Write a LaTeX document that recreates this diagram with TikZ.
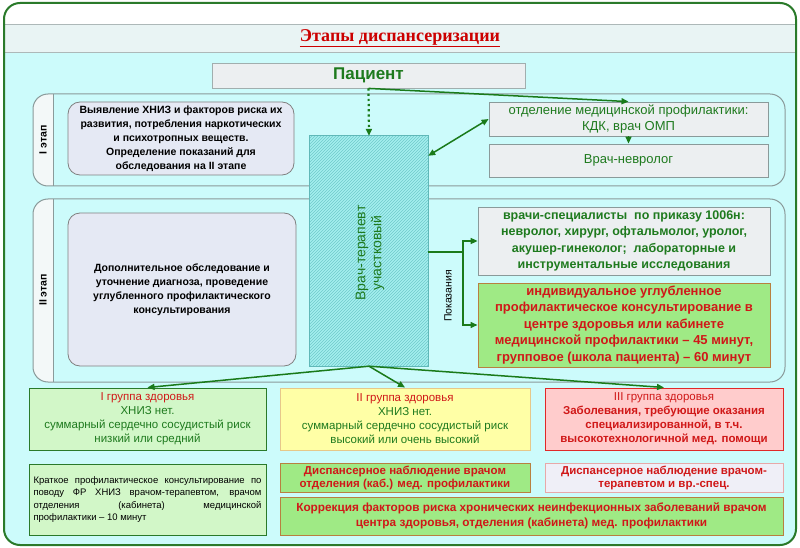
\documentclass[tikz,border=0pt]{standalone}
\usepackage{fontspec}
\setmainfont{Liberation Sans}
\newfontfamily\serifT{Liberation Serif}
\usetikzlibrary{arrows.meta,calc}
\definecolor{frameG}{HTML}{2A7A2A}
\definecolor{bgC}{HTML}{CCFBFB}
\definecolor{titleC}{HTML}{E9F4F4}
\definecolor{lineG}{HTML}{8A9A9A}
\definecolor{boxF}{HTML}{ECEFF1}
\definecolor{stF}{HTML}{E5E9F4}
\definecolor{tabF}{HTML}{F3F8F8}
\definecolor{txtG}{HTML}{1E7A1E}
\definecolor{txtR}{HTML}{D01818}
\definecolor{titR}{HTML}{CC0000}
\definecolor{arrG}{HTML}{1A7A1A}
\definecolor{cenF}{HTML}{A4EEEE}
\definecolor{cenH}{HTML}{6FCACA}
\definecolor{cenB}{HTML}{60B8B8}
\definecolor{indF}{HTML}{9FEA85}
\definecolor{brnB}{HTML}{B88040}
\definecolor{g1F}{HTML}{D2F7C8}
\definecolor{g2F}{HTML}{FFFFA6}
\definecolor{g2B}{HTML}{E6C88A}
\definecolor{g3F}{HTML}{FFCCCC}
\definecolor{g3B}{HTML}{E02828}
\definecolor{dtF}{HTML}{EFEFF7}
\definecolor{dtB}{HTML}{E8A8A8}
\newcommand{\fs}[2]{\fontsize{#1}{#2}\selectfont}
\begin{document}
\begin{tikzpicture}[x=1pt,y=-1pt,
  box/.style={draw=lineG, fill=boxF, line width=0.8pt, inner sep=0pt, align=center},
  stbox/.style={draw=gray, fill=stF, line width=0.8pt, inner sep=0pt, align=center, rounded corners=12pt, font=\bfseries\fs{10.5}{14}},
  gbox/.style={line width=1pt, inner sep=0pt, align=center},
  arr/.style={draw=arrG, line width=1.5pt, -{Triangle[length=7pt,width=6pt]}},
  tablabel/.style={rotate=90, font=\bfseries\fs{10.5}{12}},
  band/.style={draw=lineG, line width=1pt, rounded corners=15pt}]
\useasboundingbox (0,0) rectangle (800,548);
\fill[white] (0,0) rectangle (800,548);
% outer frame
\begin{scope}
\clip[rounded corners=16pt] (4,3) rectangle (796,545);
\fill[bgC] (0,0) rectangle (800,548);
\fill[white] (0,0) rectangle (800,24);
\fill[titleC] (0,24) rectangle (800,52);
\draw[lineG!70, line width=0.8pt] (0,24) -- (800,24) (0,52) -- (800,52);
\end{scope}
\draw[frameG, line width=2pt, rounded corners=16pt] (4,3) rectangle (796,545);
\node[font=\serifT\bfseries\fs{18}{20}, text=titR] (title) at (400,38) {\underline{Этапы диспансеризации}};
% stage bands
\begin{scope}
\clip (0,0) rectangle (53,548);
\fill[tabF, rounded corners=15pt] (33,94) rectangle (785,186);
\fill[tabF, rounded corners=15pt] (33,199) rectangle (785,382);
\end{scope}
\draw[band] (33,94) rectangle (785,186);
\draw[lineG, line width=1pt] (53,94) -- (53,186);
\draw[band] (33,199) rectangle (785,382);
\draw[lineG, line width=1pt] (53,199) -- (53,382);
\node[tablabel] (st1) at (43,140) {I этап};
\node[tablabel] (st2) at (43,290) {II этап};
% patient
\node[box, draw=lineG!80, minimum width=313pt, minimum height=25pt, font=\bfseries\fs{17}{20}, text=txtG] (pat) at (368.5,75.5) {Пациент};
% stage texts
\node[stbox, minimum width=226pt, minimum height=73pt] (s1) at (181,138.5) {Выявление ХНИЗ и факторов риска их\\развития, потребления наркотических\\и психотропных веществ.\\Определение показаний для\\обследования на II этапе};
\node[stbox, minimum width=228pt, minimum height=153pt] (s2) at (182,289.5) {Дополнительное обследование и\\уточнение диагноза, проведение\\углубленного профилактического\\консультирования};
% central
\node[fill=cenF, minimum width=118pt, minimum height=230pt, inner sep=0pt] (cen) at (369,251) {};
\begin{scope}
\clip (cen.south west) rectangle (cen.north east);
\foreach \i in {-234,-231,...,120} \draw[cenH, line width=0.5pt] (310+\i,366) -- ++(232,-232);
\end{scope}
\draw[cenB, line width=0.8pt] (cen.south west) rectangle (cen.north east);
\node[rotate=90, align=center, text=txtG, font=\fs{14}{16}] (centxt) at (370,253) {Врач-терапевт\\участковый};
% stage I right boxes
\node[box, minimum width=279pt, minimum height=34pt, text=txtG, font=\fs{13}{16}] (kdk) at (628.5,119) {отделение медицинской профилактики:\\КДК, врач ОМП};
\node[box, minimum width=279pt, minimum height=33pt, text=txtG, font=\fs{13}{16}] (nevr) at (628.5,160.5) {Врач-невролог};
% stage II right boxes
\node[box, minimum width=292pt, minimum height=68pt, text=txtG, font=\bfseries\fs{12.5}{16.5}] (spec) at (624,241) {врачи-специалисты\ \ по приказу 1006н:\\невролог, хирург, офтальмолог, уролог,\\акушер-гинеколог;\ \ лабораторные и\\инструментальные исследования};
\node[gbox, draw=brnB, fill=indF, minimum width=292pt, minimum height=84pt, text=txtR, font=\bfseries\fs{13}{16.5}] (ind) at (624,325) {индивидуальное углубленное\\профилактическое консультирование в\\центре здоровья или кабинете\\медицинской профилактики -- 45 минут,\\групповое (школа пациента) -- 60 минут};
\node[rotate=90, font=\fs{10.5}{12}] (pok) at (448,296) {Показания};
% groups
\node[gbox, draw=frameG, fill=g1F, minimum width=237pt, minimum height=62pt, font=\fs{11.5}{14}, text=txtG] (g1) at (147.5,419) {\textcolor{txtR}{I группа здоровья}\\ХНИЗ нет.\\суммарный сердечно сосудистый риск\\низкий или средний};
\node[gbox, draw=g2B, fill=g2F, minimum width=250pt, minimum height=62pt, font=\fs{11.5}{14}, text=txtG] (g2) at (405,419) {\textcolor{txtR}{II группа здоровья}\\ХНИЗ нет.\\суммарный сердечно сосудистый риск\\высокий или очень высокий};
\node[gbox, draw=g3B, fill=g3F, minimum width=238pt, minimum height=62pt, font=\fs{11.5}{14}, text=txtR] (g3) at (664,419) {III группа здоровья\\\textbf{Заболевания, требующие оказания}\\\textbf{специализированной, в т.ч.}\\\textbf{высокотехнологичной мед. помощи}};
% bottom row
\node[gbox, draw=frameG, fill=g1F, minimum width=237pt, minimum height=71pt, font=\fs{9.5}{12.5}, align=left] (brief) at (147.5,499.5) {\makebox[228pt][s]{Краткое профилактическое консультирование по}\\\makebox[228pt][s]{поводу ФР ХНИЗ врачом-терапевтом, врачом}\\\makebox[228pt][s]{отделения (кабинета) медицинской}\\профилактики -- 10 минут};
\node[gbox, draw=brnB, fill=indF, minimum width=250pt, minimum height=29pt, font=\bfseries\fs{11.5}{13}, text=txtR] (disp) at (405,477.5) {Диспансерное наблюдение врачом\\отделения (каб.) мед. профилактики};
\node[gbox, draw=dtB, fill=dtF, minimum width=238pt, minimum height=29pt, font=\bfseries\fs{11.5}{13}, text=txtR] (dispt) at (664,477.5) {Диспансерное наблюдение врачом-\\терапевтом и вр.-спец.};
\node[gbox, draw=brnB, fill=indF, minimum width=503pt, minimum height=38pt, font=\bfseries\fs{11.8}{15}, text=txtR] (korr) at (531.5,516) {Коррекция факторов риска хронических неинфекционных заболеваний врачом\\центра здоровья, отделения (кабинета) мед. профилактики};
% connectors
\draw[arr, dash pattern=on 2.2pt off 3pt, line width=2.2pt] (pat.south) -- (cen.north);
\draw[arr] (pat.south) -- (kdk.north);
\draw[arr, {Triangle[length=7pt,width=6pt]}-{Triangle[length=7pt,width=6pt]}] ($(cen.north east)+(0,20)$) -- (kdk.west);
\draw[arr] (kdk.south) -- (nevr.north);
\coordinate (br) at (463,252);
\draw[draw=arrG, line width=1.5pt] (cen.east |- br) -- (br);
\draw[arr] (br) |- (spec.west);
\draw[arr] (br) |- (ind.west);
\draw[arr] (cen.south) -- (g1.north);
\draw[arr] (cen.south) -- (g2.north);
\draw[arr] (cen.south) -- (g3.north);
\end{tikzpicture}
\end{document}
